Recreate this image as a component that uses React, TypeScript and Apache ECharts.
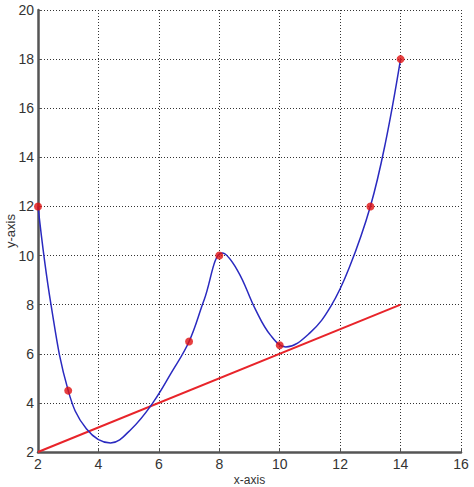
import { useEffect, useRef } from "react";
import * as echarts from "echarts";

// x, y pairs
const curvePoints: [number, number][] = [
  [2, 12], [2.43, 8], [3, 4.5], [3.6, 2.95], [4.4, 2.37], [5.1, 2.95],
  [5.8, 4], [6.4, 5.2], [7, 6.5], [7.5, 8.2], [8.1, 10.1], [8.6, 9.4],
  [9.2, 7.8], [9.7, 6.75], [10.2, 6.28], [11, 6.85], [11.7, 7.95],
  [12.3, 9.5], [13, 12], [13.5, 14.6], [14, 18],
];
const markerPoints: [number, number][] = [
  [2, 12], [3, 4.5], [7, 6.5], [8, 10], [10, 6.35], [13, 12], [14, 18],
];
const linePoints: [number, number][] = [
  [2, 2],
  [14, 8],
];
const xRange = { min: 2, max: 16, step: 2 };
const yRange = { min: 2, max: 20, step: 2 };

const labelFont = "'Liberation Sans Narrow', 'Liberation Sans', Arial, sans-serif";

function App() {
  const ref = useRef<HTMLDivElement>(null);

  useEffect(() => {
    if (!ref.current) return;
    const chart = echarts.init(ref.current, null, { renderer: "svg" });

    const gridLine = {
      show: true,
      lineStyle: { color: "#333", width: 1, type: [1, 2] as number[] },
    };

    chart.setOption({
      animation: false,
      grid: {
        left: 38,
        right: 13,
        top: 10,
        bottom: 35,
        containLabel: false,
        outerBoundsMode: "none",
      },
      xAxis: {
        type: "value",
        min: xRange.min,
        max: xRange.max,
        interval: xRange.step,
        name: "x-axis",
        nameLocation: "middle",
        nameGap: 22,
        nameMoveOverlap: false,
        nameTextStyle: { color: "#333", fontSize: 12, fontFamily: labelFont },
        axisLine: { show: true, lineStyle: { color: "#555", width: 2.5 } },
        axisTick: { show: true, inside: true, length: 4, lineStyle: { color: "#555" } },
        axisLabel: { color: "#333", fontSize: 14, fontFamily: labelFont, margin: 5 },
        splitLine: gridLine,
      },
      yAxis: {
        type: "value",
        min: yRange.min,
        max: yRange.max,
        interval: yRange.step,
        name: "y-axis",
        nameLocation: "middle",
        nameGap: 21,
        nameMoveOverlap: false,
        nameTextStyle: { color: "#333", fontSize: 13, fontFamily: labelFont },
        axisLine: { show: true, lineStyle: { color: "#555", width: 2.5 } },
        axisTick: { show: true, inside: true, length: 4, lineStyle: { color: "#555" } },
        axisLabel: { color: "#333", fontSize: 14, fontFamily: labelFont, margin: 4 },
        splitLine: gridLine,
      },
      series: [
        {
          type: "line",
          data: linePoints,
          showSymbol: false,
          lineStyle: { color: "#e8242a", width: 2 },
          z: 2,
        },
        {
          type: "line",
          data: curvePoints,
          smooth: 0.4,
          showSymbol: false,
          lineStyle: { color: "#2a2ac0", width: 1.5 },
          z: 3,
        },
        {
          type: "scatter",
          data: markerPoints,
          symbolSize: 8,
          itemStyle: { color: "#e01010" },
          z: 4,
        },
      ],
    });

    return () => chart.dispose();
  }, []);

  return (
    <div
      ref={ref}
      style={{ position: "fixed", left: 0, top: 0, width: 474, height: 487, background: "#fff" }}
    />
  );
}

export default App;
